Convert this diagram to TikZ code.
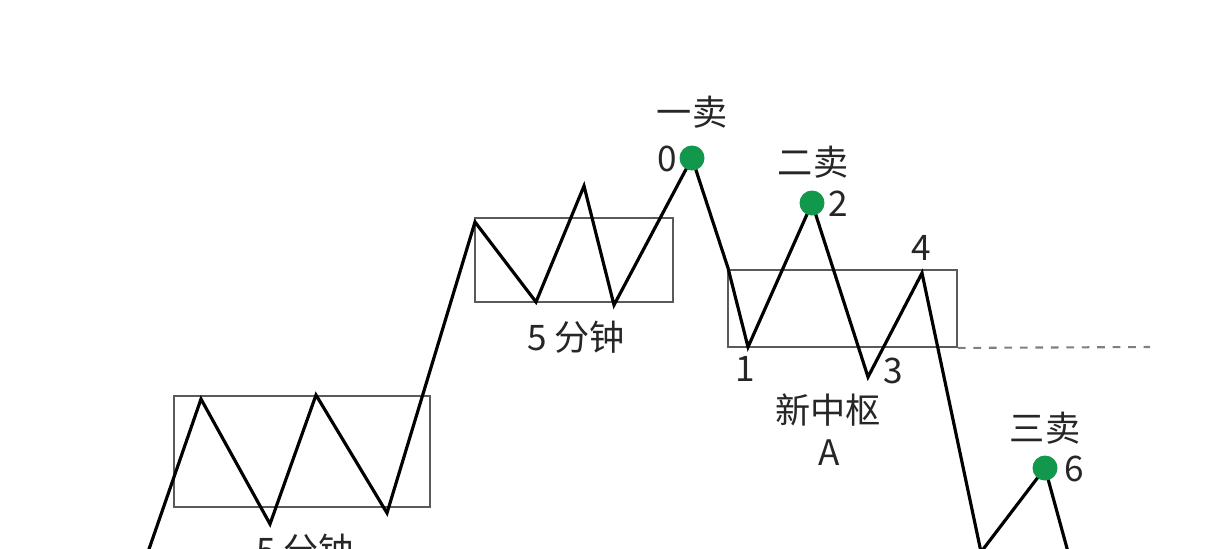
\documentclass[tikz,border=0pt]{standalone}
\usepackage{fontspec}
\newfontfamily\cjk{Noto Sans CJK SC}
\definecolor{dotgreen}{RGB}{18,152,76}
\definecolor{boxgray}{RGB}{90,90,90}
\begin{document}
\begin{tikzpicture}[x=0.01cm,y=-0.01cm,
  font=\cjk\fontsize{10pt}{11.5pt}\selectfont,
  price/.style={line width=0.9pt,black,line join=miter},
  zsbox/.style={draw=boxgray,line width=0.5pt},
  sig/.style={circle,fill=dotgreen,inner sep=0pt,minimum size=0.25cm},
  lbl/.style={inner sep=0pt,text=black!85}]
\useasboundingbox (0,0) rectangle (1231,548);
\clip (0,0) rectangle (1231,548);
% boxes
\node[zsbox,inner sep=0pt,minimum width=2.56cm,minimum height=1.11cm] (box1) at (302,451.5) {};
\node[zsbox,inner sep=0pt,minimum width=1.98cm,minimum height=0.84cm] (box2) at (574,260) {};
\node[zsbox,inner sep=0pt,minimum width=2.29cm,minimum height=0.77cm] (box3) at (842.5,308.5) {};
% dashed extension
\coordinate (dashend) at (1150,347);
\draw[gray,line width=0.6pt,dash pattern=on 2.2pt off 2.2pt] (box3.south east) -- (dashend);
% path vertices
\coordinate (s) at (148,552);
\coordinate (a1) at (201,399);
\coordinate (a2) at (270,524);
\coordinate (a3) at (316,395);
\coordinate (a4) at (387,513);
\coordinate (b1) at (475,222);
\coordinate (b2) at (536,302);
\coordinate (b3) at (584,186);
\coordinate (b4) at (614,305);
\coordinate (p0) at (692,158);
\coordinate (c0) at (728,268);
\coordinate (p1) at (748,347);
\coordinate (p2) at (812,203);
\coordinate (p3) at (868,377);
\coordinate (p4) at (922,273);
\coordinate (p5) at (981,552);
\coordinate (p6) at (1045,468);
\coordinate (p7) at (1068,552);
\draw[price] (s) -- (a1) -- (a2) -- (a3) -- (a4) -- (b1) -- (b2) -- (b3) -- (b4) -- (p0) -- (c0) -- (p1) -- (p2) -- (p3) -- (p4) -- (p5) -- (p6) -- (p7);
% signal dots
\node[sig] (d0) at (p0) {};
\node[sig] (d2) at (p2) {};
\node[sig] (d6) at (p6) {};
% labels
\node[lbl] (l0) at (667,159) {0};
\node[lbl] (l2) at (838,204) {2};
\node[lbl] (l6) at (1074,469) {6};
\node[lbl] (l1) at (745,369) {1};
\node[lbl] (l3) at (893,371) {3};
\node[lbl] (l4) at (921,248) {4};
\node[lbl] (s1) at (692,112) {一卖};
\node[lbl] (s2) at (813,162) {二卖};
\node[lbl] (s3) at (1045,428) {三卖};
\node[lbl] (na) at (828,410) {新中枢};
\node[lbl] (nb) at (829,453) {A};
\node[lbl] (m2) at (576,337) {5 分钟};
\node[lbl] (m1) at (305,550) {5 分钟};
\end{tikzpicture}
\end{document}
